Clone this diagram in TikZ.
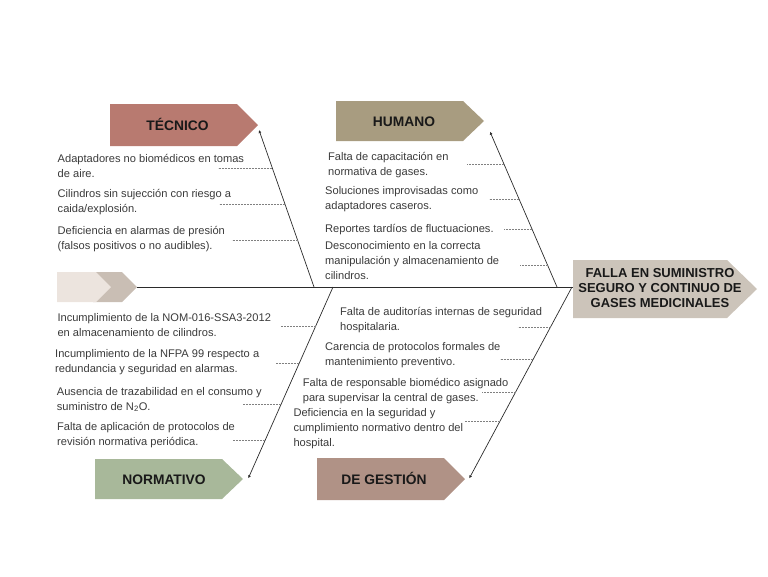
\documentclass[tikz,border=0pt]{standalone}
\usepackage{fontspec}
\setmainfont{Liberation Sans}
\usetikzlibrary{arrows.meta,calc}
\tikzset{every picture/.style={
  >={Latex[length=3pt,width=3pt]}   % small LaTeX style arrows.
  }
}
\definecolor{tecfill}{HTML}{B87A70}
\definecolor{humfill}{HTML}{A89C80}
\definecolor{norfill}{HTML}{A8B89A}
\definecolor{gesfill}{HTML}{B09286}
\definecolor{effill}{HTML}{CCC4BA}
\definecolor{taillight}{HTML}{ECE4DE}
\definecolor{taildark}{HTML}{C9BEB4}
\definecolor{txt}{HTML}{3A3A3A}
\definecolor{bonec}{HTML}{2B2B2B}

\begin{document}
\begin{tikzpicture}[
        x=1pt, y=-1pt,
        cat/.style={
          anchor=base,
          inner sep=0pt,
          text=black!90,
          font=\fontsize{13.8}{15}\selectfont\bfseries
        },
        cause/.style={
          anchor=north west,
          inner sep=0pt,
          align=left,
          text=txt,
          font=\fontsize{11.1}{15}\selectfont,
          execute at begin node=\strut
        },
        bone/.style={->, line width=0.7pt, draw=bonec},
        tick/.style={draw=black!50, line width=0.5pt,
          dash pattern=on 2pt off 1pt}]

        \useasboundingbox (0,0) rectangle (768,576);

        % Helper macro: dashed tick from a bone, going left.
        \def\tk#1#2#3{\draw[tick]
          ($(#1 tip)!#2!(#1 root)$) -- +(-#3,0)}

        % Tail and head of the fish.
        \fill[taildark]  (93,272) -- (122,272) -- (137,287) -- (122,302) -- (93,302) -- cycle;
        \fill[taillight] (57,272) -- (96,272) -- (111,287) -- (96,302) -- (57,302) -- cycle;
        \fill[effill] (573,260) -- (727,260) -- (757,289) -- (727,318) -- (573,318) -- cycle;
        \coordinate (tail) at (137,287);
        \coordinate (head) at (573,287);
        \node[anchor=north, inner sep=0pt, align=center, text=black!90,
          font=\fontsize{13}{15}\selectfont\bfseries,
          execute at begin node=\strut] (effect) at (660,268.5)
          {FALLA EN SUMINISTRO\\SEGURO Y CONTINUO DE\\GASES MEDICINALES};

        % Category boxes.
        \fill[tecfill] (110,104) -- (237,104) -- (258,125) -- (237,146) -- (110,146) -- cycle;
        \fill[humfill] (336,101) -- (463,101) -- (484,121) -- (463,141) -- (336,141) -- cycle;
        \fill[norfill] (95,459) -- (222,459) -- (243,479) -- (222,499) -- (95,499) -- cycle;
        \fill[gesfill] (317,458) -- (444,458) -- (465,479) -- (444,500) -- (317,500) -- cycle;
        \node[cat] (tecnico)   at (177.5,130) {TÉCNICO};
        \node[cat] (humano)    at (404,126.5) {HUMANO};
        \node[cat] (normativo) at (164,484)   {NORMATIVO};
        \node[cat] (gestion)   at (384,484)   {DE GESTIÓN};

        % Bones.
        \coordinate (tec tip) at (259,130);   \coordinate (tec root) at (314,287);
        \coordinate (hum tip) at (490,131.7); \coordinate (hum root) at (557,287);
        \coordinate (nor tip) at (248.3,478.3); \coordinate (nor root) at (333,287);
        \coordinate (ges tip) at (469.3,478.3); \coordinate (ges root) at (572,287);

        \draw[bonec, line width=0.7pt] (tail) -- (head);
        \draw[bone] (tec root) -- (tec tip);
        \draw[bone] (hum root) -- (hum tip);
        \draw[bone] (nor root) -- (nor tip);
        \draw[bone] (ges root) -- (ges tip);

        % Causes: TECNICO.
        \node[cause] (tec1) at (57.5,154)   {Adaptadores no biomédicos en tomas\\de aire.};
        \node[cause] (tec2) at (57.5,189.5) {Cilindros sin sujección con riesgo a\\caida/explosión.};
        \node[cause] (tec3) at (57.5,226.3) {Deficiencia en alarmas de presión\\(falsos positivos o no audibles).};
        \tk{tec}{0.242}{54};
        \tk{tec}{0.475}{66};
        \tk{tec}{0.701}{66};

        % Causes: HUMANO.
        \node[cause] (hum1) at (328,152)   {Falta de capacitación en\\normativa de gases.};
        \node[cause] (hum2) at (325,186)   {Soluciones improvisadas como\\adaptadores caseros.};
        \node[cause] (hum3) at (325,222)   {Reportes tardíos de fluctuaciones.};
        \node[cause] (hum4) at (325,241)   {Desconocimiento en la correcta\\manipulación y almacenamiento de\\cilindros.};
        \tk{hum}{0.208}{37};
        \tk{hum}{0.435}{30};
        \tk{hum}{0.627}{28};
        \tk{hum}{0.863}{28};

        % Causes: NORMATIVO.
        \node[cause] (nor1) at (57.3,313)   {Incumplimiento de la NOM-016-SSA3-2012\\en almacenamiento de cilindros.};
        \node[cause] (nor2) at (55,349.7)   {Incumplimiento de la NFPA 99 respecto a\\redundancia y seguridad en alarmas.};
        \node[cause] (nor3) at (56.7,387)   {Ausencia de trazabilidad en el consumo y\\suministro de N\textsubscript{2}O.};
        \node[cause] (nor4) at (57,422)     {Falta de aplicación de protocolos de\\revisión normativa periódica.};
        \tk{nor}{0.796}{36};
        \tk{nor}{0.604}{23};
        \tk{nor}{0.388}{38};
        \tk{nor}{0.200}{32};

        % Causes: DE GESTION.
        \node[cause] (ges1) at (340,307)     {Falta de auditorías internas de seguridad\\hospitalaria.};
        \node[cause] (ges2) at (325,342)     {Carencia de protocolos formales de\\mantenimiento preventivo.};
        \node[cause] (ges3) at (302.7,377.7) {Falta de responsable biomédico asignado\\para supervisar la central de gases.};
        \node[cause] (ges4) at (293.3,408.7) {Deficiencia en la seguridad y\\cumplimiento normativo dentro del\\hospital.};
        \tk{ges}{0.792}{33};
        \tk{ges}{0.624}{33};
        \tk{ges}{0.450}{34};
        \tk{ges}{0.296}{35};
      \end{tikzpicture}
\end{document}
